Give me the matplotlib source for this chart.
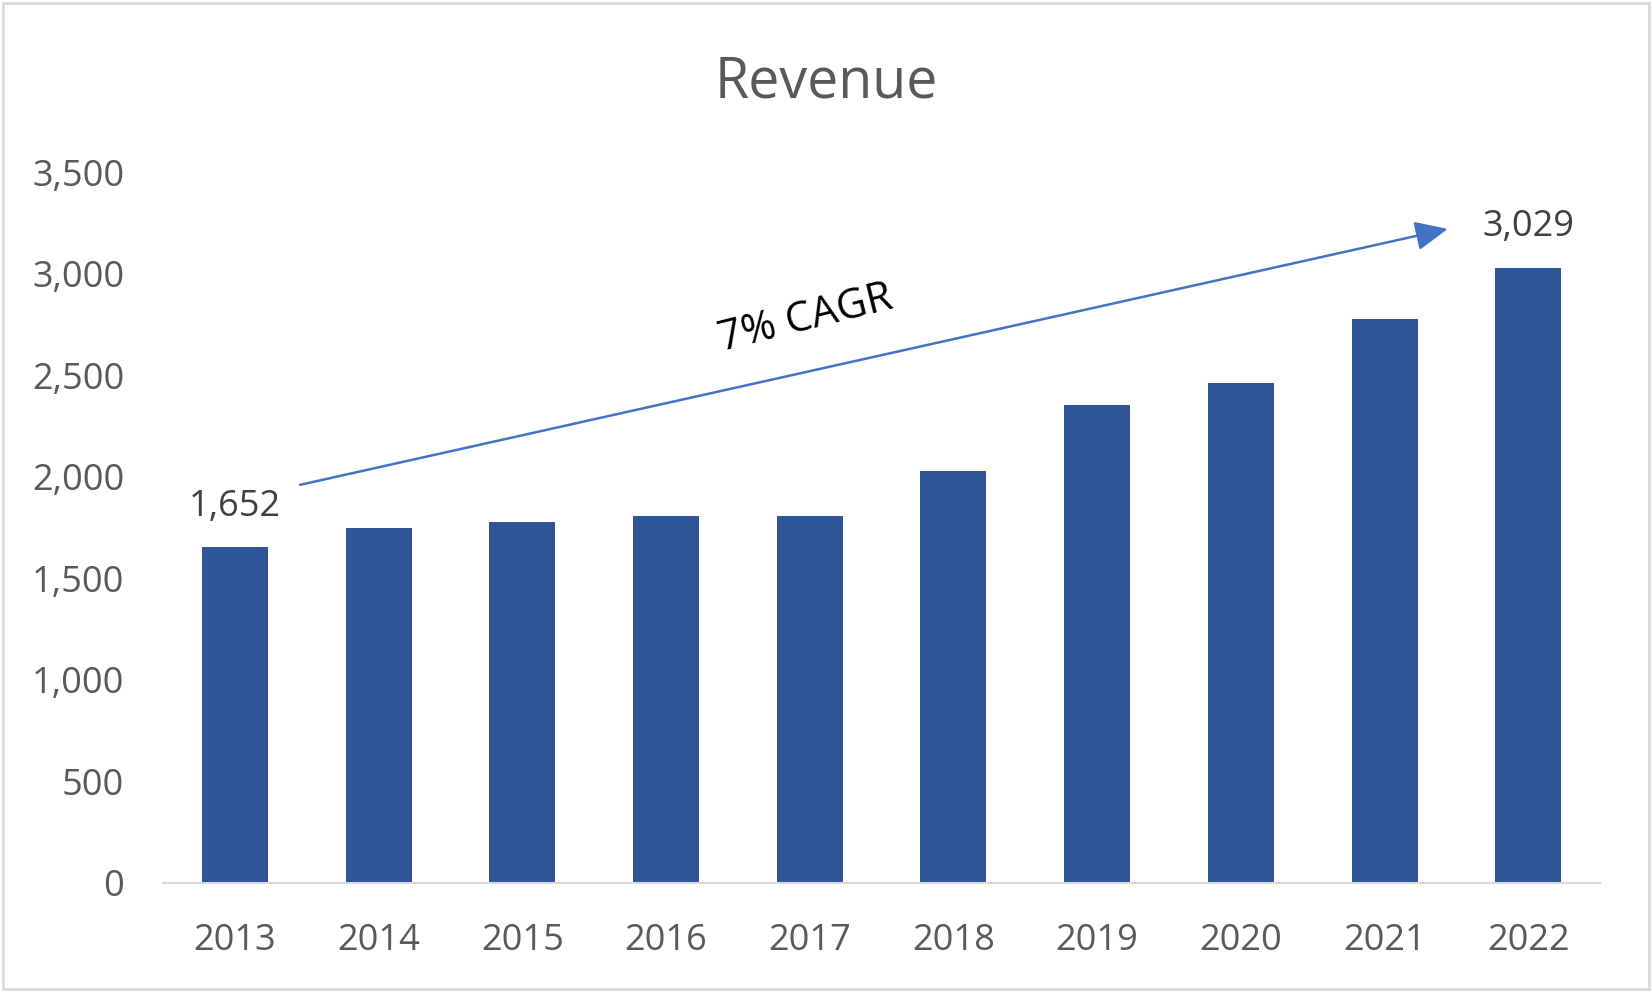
import matplotlib.pyplot as plt
from matplotlib.patches import Rectangle
import matplotlib.ticker as mticker

# data
years = ["2013", "2014", "2015", "2016", "2017", "2018", "2019", "2020", "2021", "2022"]
revenue = [1652, 1749, 1776, 1805, 1805, 2027, 2352, 2460, 2775, 3029]
labelled = [0, 9]          # bars carrying a data label
cagr_text = "7% CAGR"
y_ticks = [0, 500, 1000, 1500, 2000, 2500, 3000, 3500]

plt.rcParams['font.family'] = ['Open Sans', 'DejaVu Sans']

fig = plt.figure(figsize=(16.52, 9.92), dpi=100)
ax = fig.add_axes([0.0987, 0.1099, 0.8699, 0.7167])

x = list(range(len(years)))
ax.bar(x, revenue, width=0.46, color="#2F5597", zorder=2)

ax.set_xlim(-0.5, len(years) - 0.5)
ax.set_ylim(0, 3500)
ax.set_yticks(y_ticks)
ax.yaxis.set_major_formatter(mticker.StrMethodFormatter("{x:,.0f}"))
ax.set_xticks(x)
ax.set_xticklabels(years)

for s in ["top", "right", "left"]:
    ax.spines[s].set_visible(False)
ax.spines["bottom"].set_color("#D9D9D9")
ax.spines["bottom"].set_linewidth(1.5)
ax.tick_params(axis="both", length=0, labelsize=26, labelcolor="#595959")
ax.tick_params(axis="x", pad=29)
ax.tick_params(axis="y", pad=28)

# data labels on first and last bar
for i in labelled:
    ax.annotate(f"{revenue[i]:,}", (x[i], revenue[i]), xytext=(0, 16),
                textcoords="offset points", ha="center", va="bottom",
                fontsize=26, color="#404040")

# CAGR arrow
ax.annotate("", xy=(8.44, 3220), xytext=(0.453, 1960),
            arrowprops=dict(arrowstyle="-|>,head_length=1.0,head_width=0.45",
                            mutation_scale=20, color="#4472C4", lw=1.8,
                            shrinkA=0, shrinkB=0))
ax.text(3.97, 2777, cagr_text, rotation=14, rotation_mode="anchor",
        ha="center", va="center", fontsize=30, color="black")

fig.text(0.5, 0.902, "Revenue", ha="center", va="baseline",
         fontsize=40, color="#595959")

# chart area border
fig.patches.append(Rectangle((0.002, 0.003), 0.996, 0.994, transform=fig.transFigure,
                             fill=False, edgecolor="#D9D9D9", lw=2))

fig.savefig("out.png", dpi=100)
